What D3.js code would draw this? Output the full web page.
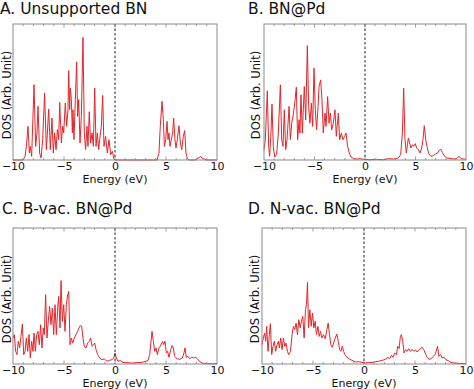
<!DOCTYPE html>
<html>
<head>
<meta charset="utf-8">
<script src="https://d3js.org/d3.v7.min.js"></script>
<style>
  body { margin: 0; background: #fff; }
  svg { display: block; font-family: "DejaVu Sans", sans-serif; }
</style>
</head>
<body>
<div id="chart"></div>
<script>
// panel titles
const titres = ["A. Unsupported BN", "B. BN@Pd", "C. B-vac. BN@Pd", "D. N-vac. BN@Pd"];
const ticksEnergie = [-10, -5, 0, 5, 10];
const domaineEnergie = [-10, 10];
const domaineDOS = [0, 100];

// [energie (eV), DOS (arb.)]
const dosA = [[-10,0],[-9.02,0],[-8.82,2.7],[-8.69,10],[-8.53,24.8],[-8.4,5.1],[-8.3,10],[-8.17,2.7],[-7.94,55.4],[-7.78,10],[-7.65,19.9],[-7.55,39.5],[-7.39,5.1],[-7.25,1.5],[-7.09,15],[-6.9,49.3],[-6.73,7.6],[-6.63,19.9],[-6.5,37.5],[-6.34,7.6],[-6.18,30.9],[-6.05,5.1],[-5.92,19.9],[-5.78,7.6],[-5.65,22.3],[-5.52,15],[-5.42,42.4],[-5.26,12.5],[-5.13,24.8],[-5.03,19.9],[-4.87,41.9],[-4.74,24.8],[-4.61,37],[-4.54,65.7],[-4.44,37],[-4.38,52.9],[-4.28,44.4],[-4.18,19.9],[-4.12,37],[-4.02,15],[-3.89,44.4],[-3.76,72.1],[-3.66,32.1],[-3.56,44.4],[-3.43,12.5],[-3.3,32.1],[-3.14,90.2],[-3.01,19.9],[-2.88,7.6],[-2.75,24.8],[-2.65,10],[-2.52,35.5],[-2.39,12.5],[-2.25,19.9],[-2.12,10],[-1.99,52.9],[-1.86,10],[-1.73,19.9],[-1.6,7.6],[-1.5,15],[-1.34,24.8],[-1.21,47.5],[-1.08,10],[-0.92,17.4],[-0.75,5.1],[-0.59,15],[-0.42,3.9],[-0.26,6.4],[-0.1,0.7],[0.03,0],[4.12,0],[4.31,5.1],[4.44,24.8],[4.61,43.1],[4.74,29.7],[4.84,10],[4.97,15],[5.1,28.4],[5.2,15],[5.29,19.9],[5.39,10],[5.52,15],[5.65,19.9],[5.75,30.9],[5.88,15],[5.98,8.8],[6.11,15],[6.27,25.2],[6.41,12.5],[6.54,7.6],[6.7,17.4],[6.83,21.6],[6.96,5.1],[7.09,1.2],[7.25,0],[7.88,0],[8.04,1.2],[8.24,1.7],[8.4,2.7],[8.56,1.2],[8.76,0.7],[8.95,0],[10,0]];

const dosB = [[-10,7.6],[-9.87,14.9],[-9.67,50.9],[-9.54,10],[-9.44,2.7],[-9.31,19.8],[-9.21,41.1],[-9.08,10],[-8.94,2.2],[-8.75,3.9],[-8.58,19.8],[-8.38,55.3],[-8.25,14.9],[-8.12,10],[-7.99,36.9],[-7.85,7.6],[-7.72,14.9],[-7.52,39.4],[-7.39,14.9],[-7.26,27.1],[-7.1,33.3],[-6.96,41.8],[-6.8,53.5],[-6.67,14.9],[-6.53,29.6],[-6.44,19.8],[-6.34,47.9],[-6.2,19.8],[-6.11,36.9],[-6.01,54],[-5.87,29.6],[-5.71,84.1],[-5.58,39.4],[-5.45,27.1],[-5.31,41.8],[-5.18,24.7],[-5.05,67.5],[-4.92,36.9],[-4.79,22.2],[-4.65,39.4],[-4.55,54],[-4.39,58.9],[-4.26,44.3],[-4.13,19.8],[-3.96,34.5],[-3.86,24.7],[-3.7,46.7],[-3.56,27.1],[-3.43,34.5],[-3.3,22.2],[-3.14,27.1],[-2.97,36.9],[-2.84,17.4],[-2.64,34.5],[-2.51,14.9],[-2.34,19.8],[-2.18,14.9],[-2.01,17.4],[-1.88,19.8],[-1.72,10],[-1.55,5.1],[-1.39,2.2],[-1.16,1.2],[-0.83,0.7],[-0.5,1],[-0.17,0.5],[0.5,0.2],[1.16,0.5],[1.82,0.2],[2.31,1],[2.81,0.7],[3.3,1.5],[3.53,3.9],[3.7,19.8],[3.83,52.8],[3.96,14.9],[4.09,5.1],[4.29,16.1],[4.42,12.5],[4.55,8.8],[4.69,11.2],[4.82,10],[4.98,12],[5.12,8.8],[5.28,7.6],[5.45,5.1],[5.61,8.8],[5.74,14.9],[5.87,25.2],[6.01,14.9],[6.14,10],[6.3,4.6],[6.53,2.7],[6.77,3.2],[7,4.6],[7.19,5.1],[7.36,7.1],[7.49,8.1],[7.66,5.6],[7.82,3.2],[8.09,1.5],[8.58,1],[8.91,0.7],[9.17,1.7],[9.34,2.7],[9.5,1],[10,0.5]];

const dosC = [[-10,19.1],[-9.87,21.6],[-9.74,9.3],[-9.61,6.9],[-9.48,16.7],[-9.35,11.8],[-9.22,20.3],[-9.08,29.4],[-8.95,6.9],[-8.82,9.3],[-8.69,19.1],[-8.56,9.3],[-8.43,21.6],[-8.3,4.4],[-8.17,16.7],[-8.04,9.3],[-7.94,22.8],[-7.81,9.3],[-7.68,21.6],[-7.55,24],[-7.42,14.2],[-7.29,28.9],[-7.16,11.8],[-7.03,26.5],[-6.93,21.6],[-6.8,51],[-6.67,19.1],[-6.54,31.4],[-6.41,42.4],[-6.27,28.9],[-6.14,41.2],[-6.01,21.6],[-5.88,43.6],[-5.75,21.6],[-5.62,41.2],[-5.52,49.7],[-5.39,26.5],[-5.29,61.3],[-5.16,31.4],[-5.03,43.6],[-4.9,24],[-4.77,43.6],[-4.64,51],[-4.54,53.4],[-4.41,14.2],[-4.28,19.1],[-4.15,15.4],[-3.99,19.1],[-3.82,21.6],[-3.66,24],[-3.53,26.5],[-3.4,28.4],[-3.27,27.7],[-3.14,19.1],[-3.01,13],[-2.84,11.8],[-2.68,15.4],[-2.52,16.7],[-2.39,19.1],[-2.25,13],[-2.12,14.2],[-1.99,15.4],[-1.86,10.5],[-1.7,6.9],[-1.5,4.4],[-1.27,3.2],[-1.05,3.7],[-0.78,2],[-0.52,2.7],[-0.29,3.2],[-0.13,4.4],[0,8.1],[0.13,4.4],[0.29,2],[0.52,2.5],[0.78,1.2],[1.18,1],[1.67,0.7],[2.16,1],[2.65,1.2],[3.04,2],[3.24,2.7],[3.4,6.9],[3.53,16.7],[3.63,24],[3.76,16.7],[3.89,9.3],[4.02,11.8],[4.15,6.9],[4.31,11.8],[4.44,13],[4.58,15.4],[4.67,16.7],[4.77,14.2],[4.9,16.7],[5.03,8.1],[5.16,9.3],[5.29,4.9],[5.46,10.5],[5.59,13.5],[5.72,11.8],[5.85,5.6],[6.08,3.9],[6.34,3.4],[6.6,4.4],[6.76,8.1],[6.86,11.8],[6.99,4.9],[7.16,5.6],[7.32,3.9],[7.52,5.1],[7.71,4.4],[7.91,4.9],[8.07,3.9],[8.27,2],[8.53,0.7],[9.02,0.2],[10,0.2]];

const dosD = [[-10,14.2],[-9.87,19.1],[-9.74,22.8],[-9.64,16.7],[-9.54,27.7],[-9.41,9.3],[-9.28,21.6],[-9.18,29.6],[-9.05,6.9],[-8.92,13],[-8.79,16.7],[-8.66,9.3],[-8.52,14.2],[-8.39,16.7],[-8.3,11.8],[-8.16,19.1],[-8.03,10.5],[-7.9,19.1],[-7.77,13],[-7.64,15.4],[-7.51,9.3],[-7.38,6.9],[-7.21,9.3],[-7.05,21.6],[-6.92,27.7],[-6.79,25.2],[-6.66,30.1],[-6.52,21.6],[-6.39,32.6],[-6.26,26.5],[-6.13,31.4],[-6,35],[-5.87,19.1],[-5.74,39.9],[-5.64,43.6],[-5.54,60],[-5.44,26.5],[-5.31,39.9],[-5.18,27.7],[-5.05,37.5],[-4.92,26.5],[-4.79,31.4],[-4.66,21.6],[-4.52,27.7],[-4.39,20.3],[-4.26,24],[-4.13,19.1],[-3.97,21.6],[-3.8,18.6],[-3.64,25.2],[-3.51,30.1],[-3.38,21.6],[-3.25,14.2],[-3.11,12.3],[-2.98,15.4],[-2.82,19.1],[-2.66,22],[-2.52,16.7],[-2.39,10.5],[-2.26,9.3],[-2.13,13],[-2,9.3],[-1.87,6.9],[-1.67,4.9],[-1.44,3.7],[-1.18,2.7],[-0.85,1.5],[-0.52,1.7],[-0.2,1.2],[0.13,0.7],[0.46,1.2],[0.79,1],[1.11,1.7],[1.44,2],[1.77,2.7],[2.1,3.4],[2.33,4.9],[2.52,3.9],[2.69,6.4],[2.85,4.9],[3.02,8.1],[3.18,6.9],[3.31,13],[3.44,11.3],[3.57,20.3],[3.67,21.6],[3.8,16.7],[3.93,8.1],[4.07,10.5],[4.23,9.3],[4.39,11.3],[4.56,9.3],[4.72,10.8],[4.89,9.3],[5.05,10.3],[5.21,8.8],[5.38,10.5],[5.54,11.3],[5.7,12.3],[5.87,10.5],[6.03,7.4],[6.2,4.9],[6.39,3.4],[6.59,3.9],[6.79,5.6],[6.95,6.9],[7.08,9.3],[7.21,13],[7.34,5.6],[7.51,6.9],[7.67,4.4],[7.84,5.1],[8.03,3.2],[8.26,2.5],[8.49,1.2],[8.82,0.7],[10,0.2]];

const series = [dosA, dosB, dosC, dosD];

// position des cadres (px)
const cadres = [
  {x: 13, y: 24, w: 204, h: 136, tx: 0, ty: 14, lx: 10.5},
  {x: 264, y: 24, w: 202, h: 136, tx: 248, ty: 14, lx: 260},
  {x: 13, y: 228, w: 204, h: 136, tx: 2, ty: 214, lx: 10.5},
  {x: 262, y: 228, w: 204, h: 136, tx: 248, ty: 214, lx: 258.5}
];

const svg = d3.select("#chart").append("svg")
  .attr("width", 474)
  .attr("height", 389);

cadres.forEach((c, i) => {
  const x = d3.scaleLinear().domain(domaineEnergie).range([c.x, c.x + c.w]);
  const y = d3.scaleLinear().domain(domaineDOS).range([c.y + c.h, c.y]);

  svg.append("text")
    .attr("x", c.tx).attr("y", c.ty)
    .attr("font-size", 15.5)
    .attr("fill", "#111")
    .text(titres[i]);

  // courbe
  svg.append("path")
    .datum(series[i])
    .attr("d", d3.line().x(d => x(d[0])).y(d => y(d[1])))
    .attr("fill", "none")
    .attr("stroke", "#e3262b")
    .attr("stroke-width", 1)
    .attr("stroke-linejoin", "round");

  // niveau de Fermi
  svg.append("line")
    .attr("x1", x(0)).attr("x2", x(0))
    .attr("y1", c.y).attr("y2", c.y + c.h)
    .attr("stroke", "#222")
    .attr("stroke-width", 1)
    .attr("stroke-dasharray", "2.5,2");

  // petits ticks haut et bas
  const mineurs = d3.range(-9, 10, 1);
  [c.y, c.y + c.h].forEach((yy, k) => {
    const dir = k == 0 ? 1 : -1;
    svg.selectAll(null).data(mineurs).enter().append("line")
      .attr("x1", d => x(d)).attr("x2", d => x(d))
      .attr("y1", yy).attr("y2", d => yy + dir * (d % 5 == 0 ? 3.5 : 2))
      .attr("stroke", "#888").attr("stroke-width", 0.8);
  });

  svg.append("rect")
    .attr("x", c.x).attr("y", c.y)
    .attr("width", c.w).attr("height", c.h)
    .attr("fill", "none")
    .attr("stroke", "#8a8a8a")
    .attr("stroke-width", 1);

  const axe = d3.axisBottom(x).tickValues(ticksEnergie).tickSize(0).tickPadding(2)
    .tickFormat(d => d < 0 ? "\u2212" + Math.abs(d) : d);
  const g = svg.append("g")
    .attr("transform", `translate(0,${c.y + c.h})`)
    .call(axe);
  g.select(".domain").remove();
  g.selectAll("text").attr("font-size", 11).attr("fill", "#111")
    .attr("font-family", "DejaVu Sans");

  svg.append("text")
    .attr("x", c.x + c.w / 2).attr("y", c.y + c.h + 22.5)
    .attr("text-anchor", "middle")
    .attr("font-size", 11)
    .attr("fill", "#111")
    .text("Energy (eV)");

  svg.append("text")
    .attr("transform", `translate(${c.lx},${c.y + c.h / 2 + 3}) rotate(-90)`)
    .attr("text-anchor", "middle")
    .attr("font-size", 11.5)
    .attr("fill", "#111")
    .text("DOS (Arb. Unit)");
});
</script>
</body>
</html>
